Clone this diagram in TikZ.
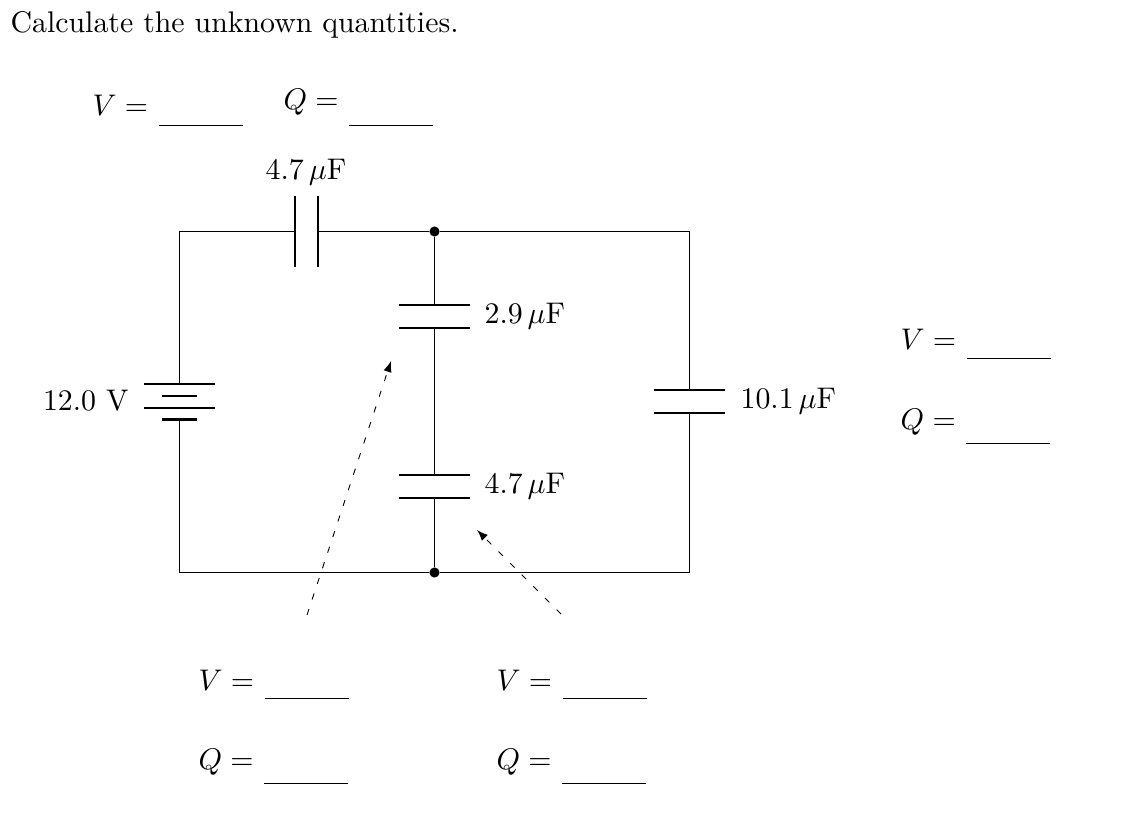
\documentclass[tikz,border=0pt]{standalone}
\usepackage{amsmath}
\usetikzlibrary{arrows}

\newcommand{\Blank}[1]{\rule[-#1]{28.2pt}{0.4pt}}

\tikzset{
    wire/.style={line width=0.36pt},
    hplate/.style={rectangle, fill=black, inner sep=0pt, outer sep=0pt, minimum width=24pt, minimum height=1pt},
    vplate/.style={rectangle, fill=black, inner sep=0pt, outer sep=0pt, minimum width=1pt, minimum height=24pt},
    hshort/.style={rectangle, fill=black, inner sep=0pt, outer sep=0pt, minimum width=12pt, minimum height=1pt},
    junction/.style={circle, fill=black, inner sep=0pt, outer sep=0pt, minimum size=3.4pt},
    pointer/.style={dash pattern=on 2.1pt off 3.4pt, -latex, line width=0.3pt},
    answer/.style={anchor=base west, inner sep=0pt},
    value/.style={inner sep=0pt}
}

\begin{document}
\begin{tikzpicture}[x=0.335pt, y=-0.335pt]
        \useasboundingbox (0,0) rectangle (1146,826);

        \node[answer] (title) at (10,33) {Calculate the unknown quantities.};

        \node[answer] (v_top) at (92,116) {$V = {}$\hspace{0.7pt}\Blank{3.35pt}};
        \node[answer] (q_top) at (283,110) {$Q = {}$\hspace{0.7pt}\Blank{5.35pt}};
        \node[answer] (v_right) at (900,349.5) {$V = {}$\hspace{0.7pt}\Blank{3.2pt}};
        \node[answer] (q_right) at (900,429) {$Q = {}$\hspace{0.7pt}\Blank{5pt}};
        \node[answer] (v_left) at (198,690) {$V = {}$\hspace{0.7pt}\Blank{3.1pt}};
        \node[answer] (q_left) at (198,769) {$Q = {}$\hspace{0.7pt}\Blank{5pt}};
        \node[answer] (v_mid) at (496,690) {$V = {}$\hspace{0.7pt}\Blank{3.1pt}};
        \node[answer] (q_mid) at (496,769) {$Q = {}$\hspace{0.7pt}\Blank{5pt}};

        \coordinate (c_tl) at (179.5,231.5);
        \coordinate (c_tr) at (689.5,231.5);
        \coordinate (c_bl) at (179.5,572.5);
        \coordinate (c_br) at (689.5,572.5);
        \node[junction] (n_top) at (434.5,231.5) {};
        \node[junction] (n_bot) at (434.5,572.5) {};

        \node[vplate] (c1_a) at (295,231.5) {};
        \node[vplate] (c1_b) at (318,231.5) {};
        \node[hplate] (c2_a) at (434.5,305) {};
        \node[hplate] (c2_b) at (434.5,328) {};
        \node[hplate] (c3_a) at (434.5,475) {};
        \node[hplate] (c3_b) at (434.5,498) {};
        \node[hplate] (c4_a) at (689.5,390) {};
        \node[hplate] (c4_b) at (689.5,413) {};
        \node[hplate] (b_a) at (179.5,384) {};
        \node[hshort] (b_b) at (179.5,396) {};
        \node[hplate] (b_c) at (179.5,408) {};
        \node[hshort] (b_d) at (179.5,419.5) {};

        \node[value] (l_c1) at (306,172) {$4.7\,\mu\mathrm{F}$};
        \node[value, anchor=west] (l_c2) at (484,316) {$2.9\,\mu\mathrm{F}$};
        \node[value, anchor=west] (l_c3) at (484,486) {$4.7\,\mu\mathrm{F}$};
        \node[value, anchor=west] (l_c4) at (740,401) {$10.1\,\mu\mathrm{F}$};
        \node[value, anchor=east] (l_b) at (129,400.5) {12.0 V};

        \draw[wire] (b_a) -- (c_tl) -- (c1_a);
        \draw[wire] (c1_b) -- (n_top) -- (c_tr) -- (c4_a);
        \draw[wire] (c4_b) -- (c_br) -- (n_bot) -- (c_bl) -- (b_d);
        \draw[wire] (n_top) -- (c2_a);
        \draw[wire] (c2_b) -- (c3_a);
        \draw[wire] (c3_b) -- (n_bot);

        \coordinate (a_start) at (307,615);
        \coordinate (a_end) at (391,361);
        \coordinate (b_start) at (561,614);
        \coordinate (b_end) at (477,530);
        \draw[pointer] (a_start) -- (a_end);
        \draw[pointer] (b_start) -- (b_end);

    \end{tikzpicture}
\end{document}
